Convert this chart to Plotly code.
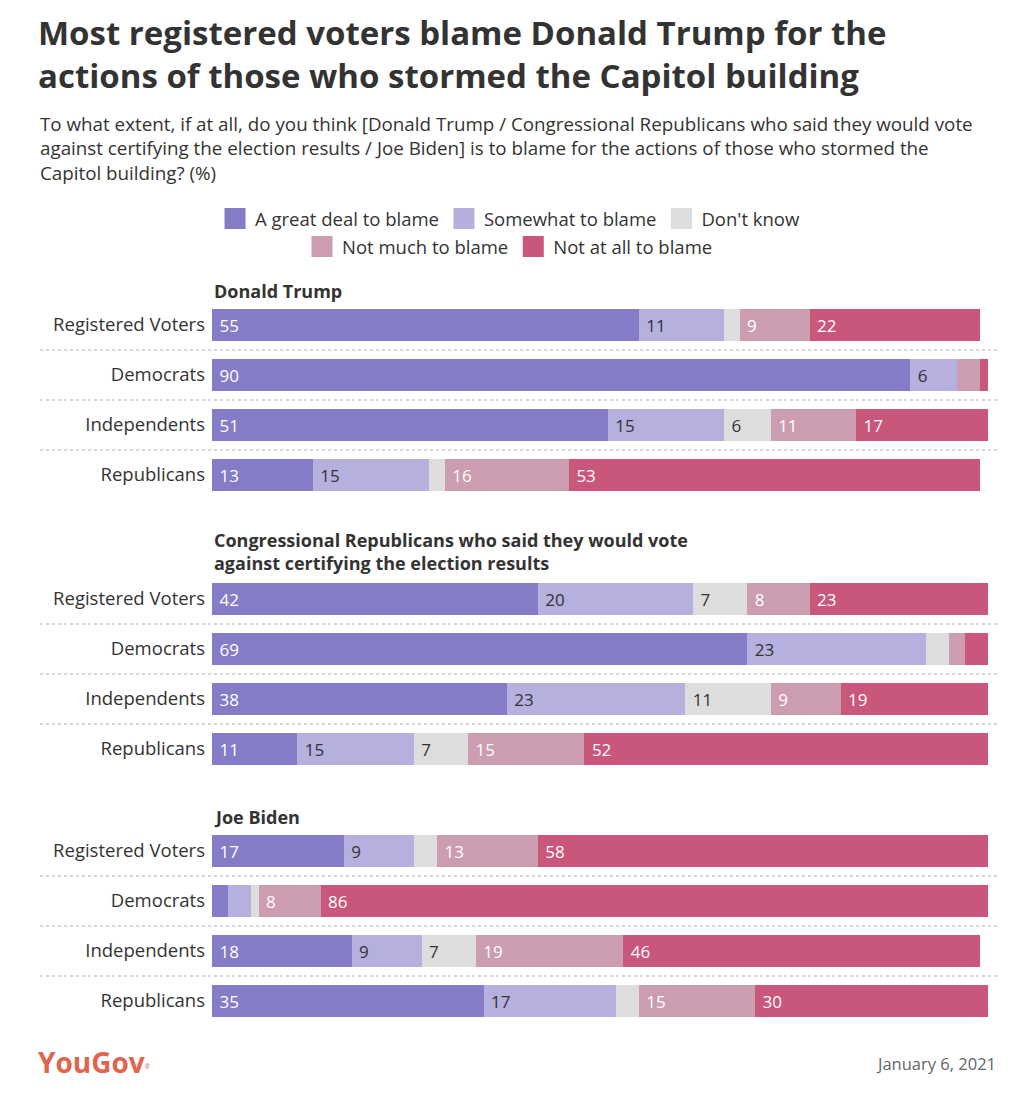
import plotly.graph_objects as go

# ---------------- data ----------------
responses = ["A great deal to blame", "Somewhat to blame", "Don't know",
             "Not much to blame", "Not at all to blame"]
segments = ["Registered Voters", "Democrats", "Independents", "Republicans"]
groups = ["Donald Trump",
          "Congressional Republicans who said they would vote<br>against certifying the election results",
          "Joe Biden"]

trump_great = [55, 90, 51, 13]
trump_somewhat = [11, 6, 15, 15]
trump_dk = [2, 0, 6, 2]
trump_notmuch = [9, 3, 11, 16]
trump_notatall = [22, 1, 17, 53]

cr_great = [42, 69, 38, 11]
cr_somewhat = [20, 23, 23, 15]
cr_dk = [7, 3, 11, 7]
cr_notmuch = [8, 2, 9, 15]
cr_notatall = [23, 3, 19, 52]

biden_great = [17, 2, 18, 35]
biden_somewhat = [9, 3, 9, 17]
biden_dk = [3, 1, 7, 3]
biden_notmuch = [13, 8, 19, 15]
biden_notatall = [58, 86, 46, 30]

group_values = [
    [trump_great, trump_somewhat, trump_dk, trump_notmuch, trump_notatall],
    [cr_great, cr_somewhat, cr_dk, cr_notmuch, cr_notatall],
    [biden_great, biden_somewhat, biden_dk, biden_notmuch, biden_notatall],
]

# ---------------- style ----------------
colors = ["#857cc8", "#b5b0de", "#dddddd", "#cc9cb0", "#c9567b"]
label_colors = ["#ffffff", "#333333", "#333333", "#ffffff", "#ffffff"]
FONT = "Open Sans"
TXT = "#333333"
W, H = 1028, 1098
OFF = 8  # page body margin in the browser
PL, PR = 212 - OFF, 988 - OFF


def py(p):  # target pixel y -> paper y (no top/bottom margins)
    return 1 - (p - OFF) / H


def px(p):  # target pixel x -> paper x
    return (p - OFF - PL) / (PR - PL)


domains_px = [(300, 500), (574, 774), (826, 1026)]

fig = go.Figure()

for gi, vals in enumerate(group_values):
    yname = "y" if gi == 0 else f"y{gi + 1}"
    xname = "x" if gi == 0 else f"x{gi + 1}"
    for ri, v in enumerate(vals):
        fig.add_trace(go.Bar(
            y=segments, x=v, orientation="h",
            name=responses[ri], marker=dict(color=colors[ri], line=dict(width=0)),
            text=["\u00a0" + str(n) if n >= 5 else "" for n in v],
            textposition="inside", insidetextanchor="start",
            constraintext="none",
            textfont=dict(family=FONT, size=17, color=label_colors[ri]),
            showlegend=False, hoverinfo="skip",
            xaxis=xname, yaxis=yname,
        ))

# legend-only entries (two centred rows)
for ri, r in enumerate(responses):
    fig.add_trace(go.Scatter(
        x=[None], y=[None], mode="markers", name=r,
        marker=dict(symbol="square", size=16, color=colors[ri],
                    line=dict(color=colors[ri], width=5)),
        legend="legend" if ri < 3 else "legend2",
        xaxis="x", yaxis="y", hoverinfo="skip",
    ))

layout = dict(
    width=W, height=H,
    margin=dict(l=PL, r=W - PR, t=0, b=0),
    paper_bgcolor="white", plot_bgcolor="white",
    barmode="stack", bargap=0.36,
    font=dict(family=FONT, color=TXT, size=17),
    legend=dict(orientation="h", x=px(510), xanchor="center", y=py(219), yanchor="middle",
                traceorder="normal",
                font=dict(size=18.5, color=TXT), itemclick=False, itemdoubleclick=False,
                bgcolor="rgba(0,0,0,0)"),
    legend2=dict(orientation="h", x=px(510), xanchor="center", y=py(247), yanchor="middle",
                 traceorder="normal",
                 font=dict(size=18.5, color=TXT), itemclick=False, itemdoubleclick=False,
                 bgcolor="rgba(0,0,0,0)"),
)

for gi, (a, b) in enumerate(domains_px):
    sfx = "" if gi == 0 else str(gi + 1)
    layout["yaxis" + sfx] = dict(domain=[py(b), py(a)], range=[3.5, -0.5], type="category",
                                 categoryorder="array", categoryarray=segments,
                                 showgrid=False, zeroline=False, showline=False, ticks="",
                                 ticklabelstandoff=6,
                                 tickfont=dict(family=FONT, size=18.5, color=TXT),
                                 anchor="x" + sfx if gi else "x", fixedrange=True)
    layout["xaxis" + sfx] = dict(domain=[0, 1], range=[0, 100], visible=False,
                                 anchor="y" + sfx if gi else "y", fixedrange=True,
                                 **({} if gi == 0 else {"matches": "x"}))

fig.update_layout(**layout)

# dotted separators between rows
shapes = []
for gi in range(3):
    yref = "y" if gi == 0 else f"y{gi + 1}"
    for k in (0.5, 1.5, 2.5):
        shapes.append(dict(type="line", xref="paper", yref=yref,
                           x0=px(40), x1=px(997), y0=k, y1=k,
                           line=dict(color="#c9c9c9", width=1.5, dash="dot"), layer="below"))
fig.update_layout(shapes=shapes)

ann = []
# title
ann.append(dict(text="<b>Most registered voters blame Donald Trump for the<br>actions of those who stormed the Capitol building</b>",
                xref="paper", yref="paper", x=px(36), y=py(54), xanchor="left", yanchor="middle",
                align="left", showarrow=False, font=dict(family=FONT, size=33, color=TXT)))
# subtitle
ann.append(dict(text="To what extent, if at all, do you think [Donald Trump / Congressional Republicans who said they would vote<br>"
                     "against certifying the election results / Joe Biden] is to blame for the actions of those who stormed the<br>"
                     "Capitol building? (%)",
                xref="paper", yref="paper", x=px(38), y=py(148), xanchor="left", yanchor="middle",
                align="left", showarrow=False, font=dict(family=FONT, size=18.8, color=TXT)))
# group headers
header_y = [(291, "middle"), (577, "bottom"), (817, "middle")]
for g, (hy, anc) in zip(groups, header_y):
    ann.append(dict(text="<b>" + g + "</b>", xref="paper", yref="paper", x=0, y=py(hy),
                    xanchor="left", yanchor=anc, align="left", showarrow=False,
                    font=dict(family=FONT, size=18, color=TXT)))
# footer
ann.append(dict(text="<b>YouGov</b><span style='font-size:9px'><sup>®</sup></span>",
                xref="paper", yref="paper", x=px(36), y=py(1062),
                xanchor="left", yanchor="middle", showarrow=False,
                font=dict(family=FONT, size=28, color="#df6550")))
ann.append(dict(text="January 6, 2021", xref="paper", yref="paper", x=px(998), y=py(1063),
                xanchor="right", yanchor="middle", showarrow=False,
                font=dict(family=FONT, size=16.5, color="#666666")))
fig.update_layout(annotations=ann)

fig.write_html("out.html")
